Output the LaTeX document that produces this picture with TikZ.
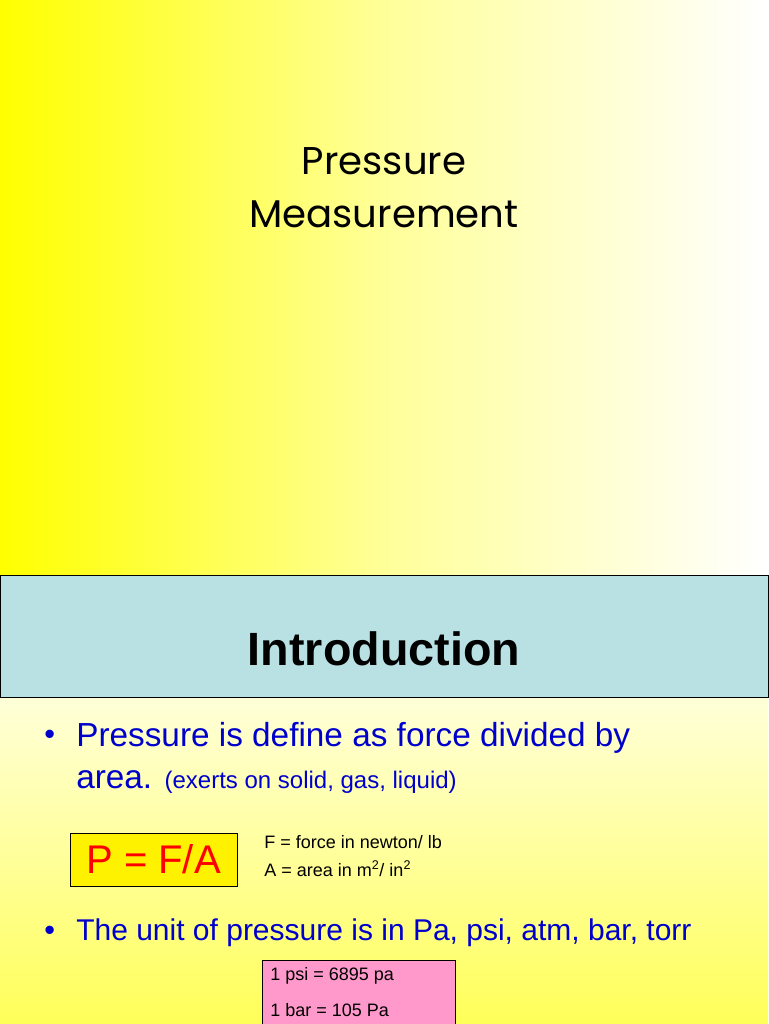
\documentclass[tikz,border=0pt]{standalone}
\usepackage{fontspec}
\setmainfont{Liberation Sans}
\newfontfamily\titlefont{Poppins}
\definecolor{band}{RGB}{185,225,228}
\definecolor{pinkbox}{RGB}{255,153,204}
\definecolor{bluetxt}{RGB}{0,0,204}
\begin{document}
\begin{tikzpicture}[x=0.75pt,y=-0.75pt,
  small/.style={anchor=west,font=\fontsize{13.5}{16}\selectfont,inner sep=0}]
\useasboundingbox (0,0) rectangle (768,1024);
\shade[left color=yellow,right color=white,middle color={yellow!40!white}] (0,0) rectangle (768,575);
\shade[top color={yellow!15!white},bottom color={yellow!65!white}] (0,697) rectangle (768,1024);
\node[align=center,font=\titlefont\fontsize{29}{40}\selectfont] (title) at (384,188) {Pressure\\Measurement};
\draw[fill=band] (0,575) rectangle (768,697);
\node[font=\bfseries\fontsize{35}{40}\selectfont] (intro) at (384,649) {Introduction};
\node[anchor=west,text=bluetxt,font=\fontsize{23}{28}\selectfont,inner sep=0] (b1) at (44,737) {•};
\node[anchor=west,text=bluetxt,font=\fontsize{25}{32}\selectfont,inner sep=0,align=left] (t1) at (76,758) {Pressure is define as force divided by\\area. {\fontsize{18}{20}\selectfont(exerts on solid, gas, liquid)}};
\node[draw,fill=yellow,minimum width=167*0.75pt,minimum height=53*0.75pt,inner sep=0] (pfa) at (153.5,859.5) {};
\node[text=red,font=\fontsize{30}{36}\selectfont] at (pfa) {P = F/A};
\node[small] (f) at (264,842) {F = force in newton/ lb};
\node[small] (a) at (264,869) {A = area in m\textsuperscript{2}/ in\textsuperscript{2}};
\node[anchor=west,text=bluetxt,font=\fontsize{23}{28}\selectfont,inner sep=0] (b2) at (44,933) {•};
\node[anchor=west,text=bluetxt,font=\fontsize{22.5}{28}\selectfont,inner sep=0] (t2) at (76,933) {The unit of pressure is in Pa, psi, atm, bar, torr};
\draw[fill=pinkbox] (262,960) rectangle (455,1030);
\node[small] (psi) at (270,976) {1 psi = 6895 pa};
\node[small] (bar) at (270,1010) {1 bar = 105 Pa};
\end{tikzpicture}
\end{document}
